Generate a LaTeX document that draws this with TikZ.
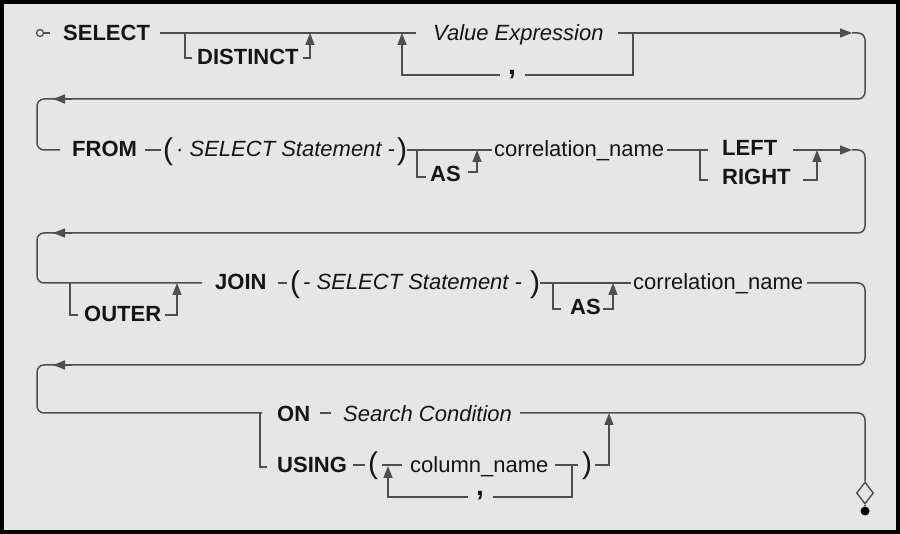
\documentclass[tikz,border=0pt]{standalone}
\usepackage{fontspec}
\setmainfont{Liberation Sans}
\usetikzlibrary{arrows.meta,shapes.geometric}
\definecolor{bg}{HTML}{E6E6E6}
\definecolor{rl}{HTML}{4E4E4E}
\definecolor{txt}{HTML}{151515}
\tikzset{
 rail/.style={draw=rl, line width=1.5pt},
 kwd/.style={font=\fontsize{22}{24}\selectfont\bfseries, inner sep=0pt, anchor=base west, text=txt},
 ital/.style={font=\fontsize{22}{24}\selectfont\itshape, inner sep=0pt, anchor=base west, text=txt},
 nrm/.style={font=\fontsize{22}{24}\selectfont, inner sep=0pt, anchor=base west, text=txt},
 par/.style={font=\fontsize{30}{30}\selectfont, inner sep=0pt, anchor=center, text=txt},
 cma/.style={font=\fontsize{28}{28}\selectfont\bfseries, inner sep=0pt, anchor=base, text=txt},
 tip/.style={-{Triangle[length=12pt,width=9pt]}},
 turn/.style={rail, rounded corners=7pt},
}
\begin{document}
\begin{tikzpicture}[x=1pt,y=-1pt]
\useasboundingbox (0,0) rectangle (900,534);
\fill[bg] (0,0) rectangle (900,534);
\draw[black, line width=8pt] (0,0) rectangle (900,534);

% ---------- row 1 ----------
\node[circle, draw=rl, line width=1.3pt, minimum size=7pt, inner sep=0pt] (start) at (40,33) {};
\coordinate (s1) at (50,33);
\draw[rail] (start) -- (s1);
\node[kwd] (select) at (63,41) {SELECT};
\coordinate (a1) at (160,33);
\coordinate (a2) at (416,33);
\draw[rail] (a1) -- (a2);
\coordinate (d1) at (185,33);
\coordinate (d2) at (192,58);
\draw[rail] (d1) |- (d2);
\node[kwd] (distinct) at (197,65) {DISTINCT};
\coordinate (d3) at (303,58);
\coordinate (d4) at (310,33);
\draw[rail,tip] (d3) -| (d4);
\node[ital] (valexp) at (433,41) {Value Expression};
\coordinate (c1) at (618,33);
\coordinate (c2) at (633,33);
\coordinate (c3) at (525,75);
\node[cma] (comma1) at (512,75) {,};
\coordinate (c4) at (500,75);
\coordinate (c5) at (402,33);
\draw[rail] (c2) |- (c3);
\draw[rail,tip] (c4) -| (c5);
\coordinate (e1) at (852,33);
\draw[rail,tip] (c1) -- (e1);
\coordinate (f0) at (60,150);
\draw[turn] (e1) -- (865,33) -- (865,99) -- (37,99) -- (37,150) -- (f0);
\draw[rail,tip] (72,99) -- (53,99);

% ---------- row 2 ----------
\node[kwd] (from) at (72,157) {FROM};
\draw[rail] (145,150) -- (161,150);
\node[par] (lp1) at (168,152) {(};
\node[ital] (ss1) at (176,157) {· SELECT Statement -};
\node[par] (rp1) at (402,152) {)};
\coordinate (g1) at (407,150);
\coordinate (g2) at (492,150);
\draw[rail] (g1) -- (g2);
\coordinate (g3) at (417,150);
\coordinate (g4) at (426,177);
\draw[rail] (g3) |- (g4);
\node[kwd] (as1) at (430,182) {AS};
\coordinate (g5) at (468,172);
\coordinate (g6) at (477,150);
\draw[rail,tip] (g5) -| (g6);
\node[nrm] (cn1) at (494,157) {correlation\_name};
\coordinate (h1) at (667,150);
\coordinate (h2) at (708,150);
\draw[rail] (h1) -- (h2);
\coordinate (h3) at (700,150);
\coordinate (h4) at (708,180);
\draw[rail] (h3) |- (h4);
\node[kwd] (left) at (722,156) {LEFT};
\node[kwd] (right) at (722,185) {RIGHT};
\coordinate (h5) at (793,150);
\coordinate (e2) at (852,150);
\draw[rail,tip] (h5) -- (e2);
\coordinate (h6) at (803,180);
\coordinate (h7) at (817,150);
\draw[rail,tip] (h6) -| (h7);
\coordinate (j0) at (202,283);
\draw[turn] (e2) -- (865,150) -- (865,233) -- (37,233) -- (37,283) -- (j0);
\draw[rail,tip] (72,233) -- (53,233);

% ---------- row 3 ----------
\coordinate (k1) at (70,283);
\coordinate (k2) at (78,315);
\draw[rail] (k1) |- (k2);
\node[kwd] (outer) at (84,322) {OUTER};
\coordinate (k3) at (165,315);
\coordinate (k4) at (177,283);
\draw[rail,tip] (k3) -| (k4);
\node[kwd] (join) at (215,290) {JOIN};
\draw[rail] (278,283) -- (287,283);
\node[par] (lp2) at (295,285) {(};
\node[ital] (ss2) at (303,290) {- SELECT Statement -};
\node[par] (rp2) at (535,285) {)};
\coordinate (m1) at (540,283);
\coordinate (m2) at (631,283);
\draw[rail] (m1) -- (m2);
\coordinate (m3) at (553,283);
\coordinate (m4) at (561,309);
\draw[rail] (m3) |- (m4);
\node[kwd] (as2) at (570,315) {AS};
\coordinate (m5) at (603,309);
\coordinate (m6) at (613,283);
\draw[rail,tip] (m5) -| (m6);
\node[nrm] (cn2) at (633,290) {correlation\_name};
\coordinate (m7) at (807,283);
\coordinate (o0) at (262,413);
\draw[turn] (m7) -- (865,283) -- (865,365) -- (37,365) -- (37,413) -- (o0);
\draw[rail,tip] (72,365) -- (53,365);

% ---------- row 4 ----------
\coordinate (n1) at (260,413);
\coordinate (n2) at (267,467);
\draw[rail] (n1) |- (n2);
\node[kwd] (on) at (277,422) {ON};
\draw[rail] (320,413) -- (331,413);
\node[ital] (sc) at (343,422) {Search Condition};
\node[diamond, draw=rl, line width=1.4pt, minimum width=17pt, minimum height=22pt, inner sep=0pt] (dia) at (865,493) {};
\node[circle, fill=black, minimum size=9pt, inner sep=0pt] (stop) at (865,511) {};
\coordinate (p1) at (520,413);
\draw[turn] (p1) -- (865,413) -- (dia.north);
\draw[rail] (dia.south) -- (stop);
\node[kwd] (using) at (277,472) {USING};
\draw[rail] (353,465) -- (365,465);
\node[par] (lp3) at (373,466) {(};
\draw[rail] (382,465) -- (402,465);
\node[nrm] (cn3) at (410,472) {column\_name};
\coordinate (q1) at (555,465);
\coordinate (q2) at (578,465);
\draw[rail] (q1) -- (q2);
\coordinate (q3) at (572,465);
\coordinate (q4) at (493,497);
\draw[rail] (q3) |- (q4);
\node[cma] (comma2) at (480,496) {,};
\coordinate (q5) at (468,497);
\coordinate (q6) at (388,466);
\draw[rail,tip] (q5) -| (q6);
\node[par] (rp3) at (587,466) {)};
\coordinate (r1) at (595,465);
\coordinate (r2) at (609,413);
\draw[rail,tip] (r1) -| (r2);
\end{tikzpicture}
\end{document}
